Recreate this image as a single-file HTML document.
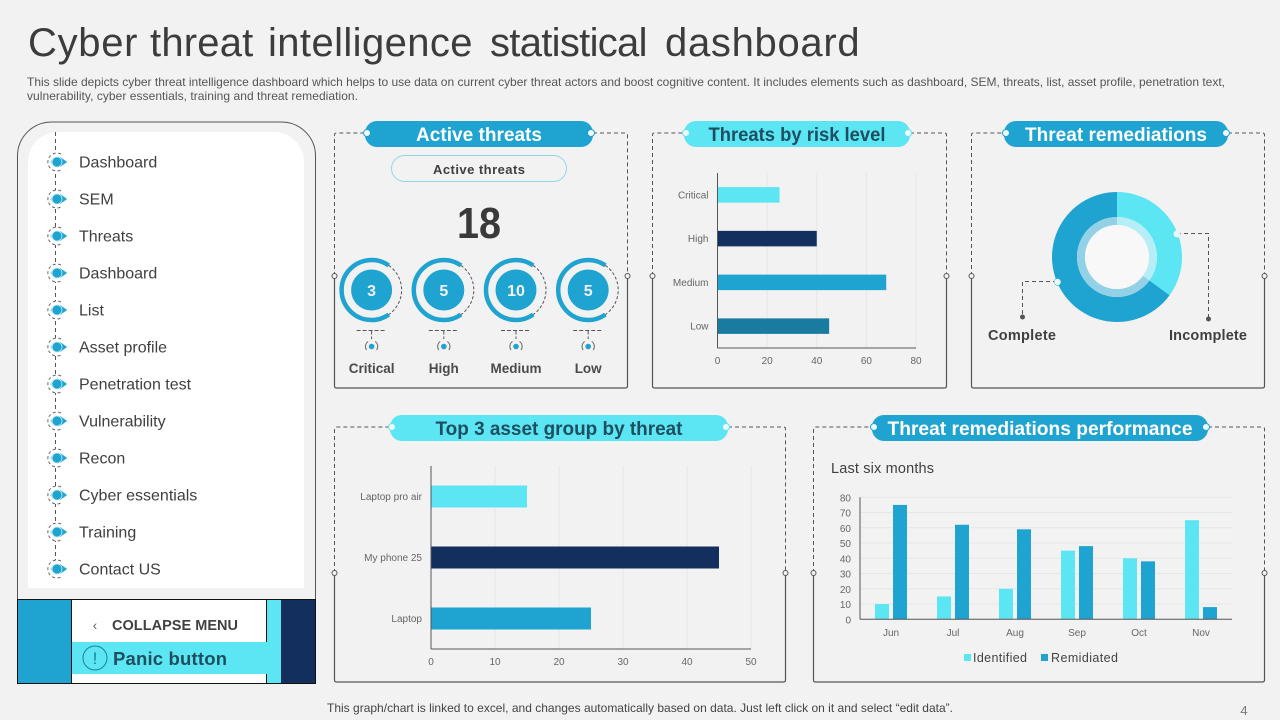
<!DOCTYPE html>
<html lang="en">
<head>
<meta charset="utf-8">
<title>Cyber threat intelligence statistical dashboard</title>
<style>
html,body{margin:0;padding:0;background:#f2f2f2;width:1280px;height:720px;overflow:hidden}
svg{display:block;font-family:"Liberation Sans",sans-serif}
.tick{font-size:10px;fill:#666}
.head{font-size:19px;font-weight:bold;text-anchor:middle}
</style>
</head>
<body>
<svg id="slide" width="1280" height="720" viewBox="0 0 1280 720" xmlns="http://www.w3.org/2000/svg">
<rect width="1280" height="720" fill="#f2f2f2"/>
<text y="56" font-size="40" fill="#3c3c3c"><tspan x="28" letter-spacing="0.7">Cyber</tspan> <tspan x="150" letter-spacing="0.2">threat</tspan> <tspan x="268" letter-spacing="0.4">intelligence</tspan> <tspan x="490" letter-spacing="-0.7">statistical</tspan> <tspan x="665" letter-spacing="0.7">dashboard</tspan></text>
<text x="27" y="86" font-size="12" fill="#555" textLength="1198" lengthAdjust="spacing">This slide depicts cyber threat intelligence dashboard which helps to use data on current cyber threat actors and boost cognitive content. It includes elements such as dashboard, SEM, threats, list, asset profile, penetration text,</text>
<text x="27" y="100" font-size="12" fill="#555" textLength="331" lengthAdjust="spacing">vulnerability, cyber essentials, training and threat remediation.</text>

<g id="sidebar">
<path d="M17.5 600V156a34 34 0 0 1 34-34H281.5a34 34 0 0 1 34 34V600" fill="none" stroke="#555" stroke-width="1"/>
<path d="M28 588V162a30 30 0 0 1 30-30H274a30 30 0 0 1 30 30V588Z" fill="#fff"/>
<line x1="55.5" y1="132" x2="55.5" y2="560" stroke="#555" stroke-width="1" stroke-dasharray="4 3"/>
<g id="nav"></g>
<rect x="18" y="600" width="53" height="83" fill="#1fa3d0"/>
<rect x="71" y="600" width="196" height="83" fill="#fff"/>
<rect x="267" y="600" width="14" height="83" fill="#5ce5f3"/>
<rect x="281" y="600" width="34" height="83" fill="#132f5e"/>
<rect x="72" y="642" width="209" height="32" fill="#5ce5f3"/>
<line x1="71.5" y1="600" x2="71.5" y2="683" stroke="#111" stroke-width="1"/>
<line x1="266.5" y1="600" x2="266.5" y2="642" stroke="#111" stroke-width="1"/>
<line x1="266.5" y1="674" x2="266.5" y2="683" stroke="#111" stroke-width="1"/>
<rect x="17.5" y="599.5" width="298" height="84" fill="none" stroke="#111" stroke-width="1"/>
<text x="95" y="630" font-size="14" fill="#666" text-anchor="middle">‹</text>
<text x="112" y="630" font-size="14.500" font-weight="bold" fill="#404040" textLength="126" lengthAdjust="spacing">COLLAPSE MENU</text>
<circle cx="95" cy="658" r="12" fill="none" stroke="#1b7fa3" stroke-width="1"/>
<text x="95" y="664" font-size="17" fill="#1b7fa3" text-anchor="middle">!</text>
<text x="113" y="665" font-size="18.500" font-weight="bold" fill="#1d4f60" textLength="114" lengthAdjust="spacing">Panic button</text>
</g>

<g id="panels"></g>

<g>
<rect x="391.5" y="155.5" width="175" height="26" rx="13" fill="none" stroke="#8fd6e8" stroke-width="1"/>
<text x="479" y="174" font-size="13" font-weight="bold" fill="#404040" text-anchor="middle" textLength="92">Active threats</text>
<text id="active-total" x="479" y="238" font-size="44" font-weight="bold" fill="#3a3a3a" text-anchor="middle" textLength="44" lengthAdjust="spacingAndGlyphs">18</text>
<g id="gauges"></g>
</g>

<g id="risk-chart"></g>

<g>
<g id="donut"></g>
<path d="M1177 233.500H1208.500V319" fill="none" stroke="#555" stroke-width="1" stroke-dasharray="4 3"/>
<circle cx="1177" cy="234" r="3.500" fill="#eaf9fc"/>
<circle cx="1208.500" cy="319" r="2.500" fill="#555"/>
<path d="M1057 281.500H1022.500V317" fill="none" stroke="#555" stroke-width="1" stroke-dasharray="4 3"/>
<circle cx="1057.500" cy="282" r="3.500" fill="#eaf9fc" stroke="#1fa3d0" stroke-width="0.500"/>
<circle cx="1022.500" cy="317" r="2.500" fill="#555"/>
<text x="1022" y="340" font-size="14.500" font-weight="bold" fill="#404040" text-anchor="middle" textLength="68">Complete</text>
<text x="1208" y="340" font-size="14.500" font-weight="bold" fill="#404040" text-anchor="middle" textLength="78">Incomplete</text>
</g>

<g id="asset-chart"></g>

<text x="831" y="473" font-size="14.500" fill="#404040" textLength="103">Last six months</text>
<g id="perf-chart"></g>

<text x="327" y="712" font-size="12" fill="#444" textLength="626" lengthAdjust="spacing">This graph/chart is linked to excel, and changes automatically based on data. Just left click on it and select “edit data”.</text>
<text x="1244" y="715" font-size="13" fill="#777" text-anchor="middle">4</text>
</svg>

<script>
const navItems = ["Dashboard","SEM","Threats","Dashboard","List","Asset profile","Penetration test","Vulnerability","Recon","Cyber essentials","Training","Contact US"];

const gaugeLabels = ["Critical","High","Medium","Low"];
const gaugeValues = [3,5,10,5];

const riskCategories = ["Critical","High","Medium","Low"];
const riskValues = [25,40,68,45];
const riskTicks = [0,20,40,60,80];

const donutLabels = ["Incomplete","Complete"];
const donutValues = [35,65];

const assetCategories = ["Laptop pro air","My phone 25","Laptop"];
const assetValues = [15,45,25];
const assetTicks = [0,10,20,30,40,50];

const perfMonths = ["Jun","Jul","Aug","Sep","Oct","Nov"];
const perfIdentified = [10,15,20,45,40,65];
const perfRemidiated = [75,62,59,48,38,8];
const perfTicks = [0,10,20,30,40,50,60,70,80];

const NS = "http://www.w3.org/2000/svg";
const CYAN = "#5ce5f3", BLUE = "#1fa3d0", NAVY = "#132f5e", TEAL = "#1a7ba0";

function mk(tag, attrs, parent, text) {
  const el = document.createElementNS(NS, tag);
  for (const k in attrs) el.setAttribute(k, attrs[k]);
  if (text !== undefined) el.textContent = text;
  parent.appendChild(el);
  return el;
}
function label(el, name, interactive) {
  
  
  return el;
}
function slug(s) { return String(s).toLowerCase().replace(/[^a-z0-9]+/g, '-'); }

/* sidebar */
const navG = document.getElementById('nav');
navItems.forEach((item, i) => {
  const y = 162 + 37 * i;
  const g = mk('g', {}, navG);
  
  
  const mask = mk('circle', {cx:56.5, cy:y, r:9, fill:'#fff'}, g);
  label(mask, 'nav-icon-backdrop', false);
  const halo = mk('path', {d:`M61 ${y-8}A9 9 0 1 0 61 ${y+8}`, fill:'none', stroke:'#666', 'stroke-width':1, 'stroke-dasharray':'3 2.500'}, g);
  label(halo, 'nav-icon-ring', false);
  const eye = mk('path', {d:`M50 ${y}Q57 ${y-9} 67 ${y}Q57 ${y+9} 50 ${y}Z`, fill:'#8fdcec'}, g);
  label(eye, 'nav-icon-eye', false);
  const tip = mk('path', {d:`M60 ${y-5}L67 ${y}L60 ${y+5}Z`, fill:BLUE}, g);
  label(tip, 'nav-icon-pointer', false);
  const dot = mk('circle', {cx:57, cy:y, r:5, fill:BLUE, stroke:'#bfeef6', 'stroke-width':0.8}, g);
  label(dot, 'nav-icon-dot', false);
  const t = mk('text', {x:79, y:y+5.5, 'font-size':16, fill:'#404040'}, g, item);
  label(t, 'nav-label', true);
});

/* panels */
const panelDefs = [
  {name:'active-threats', title:'Active threats', x1:334.5, x2:627.5, top:133, bot:388, mid:276, p1:365, p2:593, py:121, col:BLUE, tc:'#fff', tl:126},
  {name:'threats-by-risk', title:'Threats by risk level', x1:652.5, x2:946.5, top:133, bot:388, mid:276, p1:684, p2:910, py:121, col:CYAN, tc:'#1d4f60', tl:177},
  {name:'threat-remediations', title:'Threat remediations', x1:971.5, x2:1264.5, top:133, bot:388, mid:276, p1:1004, p2:1228, py:121, col:BLUE, tc:'#fff', tl:182},
  {name:'top-asset-group', title:'Top 3 asset group by threat', x1:334.5, x2:785.5, top:427, bot:682, mid:573, p1:390, p2:728, py:415, col:CYAN, tc:'#1d4f60', tl:247},
  {name:'remediation-performance', title:'Threat remediations performance', x1:813.5, x2:1264.5, top:427, bot:682, mid:573, p1:872, p2:1208, py:415, col:BLUE, tc:'#fff', tl:305}
];
const panelsG = document.getElementById('panels');
panelDefs.forEach(p => {
  const g = mk('g', {}, panelsG);
  
  
  const dash = mk('path', {d:`M${p.x1} ${p.mid}V${p.top+2}q0 -2 2 -2H${p.p1} M${p.p2} ${p.top}H${p.x2-2}q2 0 2 2V${p.mid}`, fill:'none', stroke:'#555', 'stroke-width':1, 'stroke-dasharray':'4 3'}, g);
  label(dash, 'panel-dashed-border', false);
  const solid = mk('path', {d:`M${p.x1} ${p.mid}V${p.bot-2}q0 2 2 2H${p.x2-2}q2 0 2 -2V${p.mid}`, fill:'none', stroke:'#555', 'stroke-width':1.200}, g);
  label(solid, 'panel-solid-border', false);
  [p.x1, p.x2].forEach(x => {
    const c = mk('circle', {cx:x, cy:p.mid, r:2.500, fill:'#f2f2f2', stroke:'#555', 'stroke-width':1}, g);
    label(c, 'panel-border-node', false);
  });
  const pill = mk('rect', {x:p.p1, y:p.py, width:p.p2-p.p1, height:26, rx:12, fill:p.col}, g);
  label(pill, 'panel-title-pill', false);
  [p.p1+2, p.p2-2].forEach(x => {
    const c = mk('circle', {cx:x, cy:p.top, r:3.500, fill:'#f2fbfd', stroke:p.col, 'stroke-width':1}, g);
    label(c, 'panel-title-node', false);
  });
  const t = mk('text', {x:(p.p1+p.p2)/2, y:p.py+20, class:'head', fill:p.tc, textLength:p.tl, lengthAdjust:'spacingAndGlyphs'}, g, p.title);
  label(t, 'panel-title', false);
});

/* gauges */
const gaugesG = document.getElementById('gauges');
const gaugeStep = 72.2;
gaugeLabels.forEach((name, i) => {
  const cx = 371.6 + gaugeStep * i, cy = 290;
  const g = mk('g', {}, gaugesG);
  
  
  const a = Math.PI * 35 / 180, r = 30;
  const sx = cx + r * Math.sin(a), sy = cy - r * Math.cos(a), ey = cy + r * Math.cos(a);
  const arc = mk('path', {d:`M${sx} ${sy}A${r} ${r} 0 1 0 ${sx} ${ey}`, fill:'none', stroke:BLUE, 'stroke-width':4.500}, g);
  label(arc, 'gauge-arc', false);
  const rest = mk('path', {d:`M${sx} ${sy}A${r} ${r} 0 0 1 ${sx} ${ey}`, fill:'none', stroke:'#555', 'stroke-width':1, 'stroke-dasharray':'3 2'}, g);
  label(rest, 'gauge-remainder', false);
  const disc = mk('circle', {cx:cx, cy:cy, r:20.500, fill:BLUE}, g);
  label(disc, 'gauge-disc', false);
  const val = mk('text', {x:cx, y:cy+6, 'font-size':16, 'font-weight':'bold', fill:'#f2f2f2', 'text-anchor':'middle'}, g, gaugeValues[i]);
  label(val, 'gauge-value', false);
  const conn = mk('path', {d:`M${cx-15} 330.500H${cx+15}M${cx} 330.500V339`, fill:'none', stroke:'#555', 'stroke-width':1, 'stroke-dasharray':'4 2'}, g);
  label(conn, 'gauge-connector', false);
  const ringL = mk('path', {d:`M${cx-3.500} 341.500A6 6 0 0 0 ${cx-5} 350`, fill:'none', stroke:'#666', 'stroke-width':1}, g);
  label(ringL, 'gauge-marker-arc-left', false);
  const ringR = mk('path', {d:`M${cx+3.500} 341.500A6 6 0 0 1 ${cx+5} 350`, fill:'none', stroke:'#666', 'stroke-width':1}, g);
  label(ringR, 'gauge-marker-arc-right', false);
  const dot = mk('circle', {cx:cx, cy:346.500, r:2.800, fill:BLUE}, g);
  label(dot, 'gauge-marker-dot', false);
  const t = mk('text', {x:cx, y:373, 'font-size':13.5, 'font-weight':'bold', fill:'#4a4a4a', 'text-anchor':'middle'}, g, name);
  label(t, 'gauge-label', false);
});

/* horizontal bar chart */
function hbars(rootId, cats, vals, ticks, colors, o) {
  const root = document.getElementById(rootId);
  const maxT = ticks[ticks.length - 1];
  const xs = v => o.x0 + (o.x1 - o.x0) * v / maxT;
  const band = (o.yB - o.yT) / cats.length;
  ticks.forEach(t => {
    if (t !== 0) {
      const gl = mk('line', {x1:xs(t), x2:xs(t), y1:o.yT, y2:o.yB, stroke:'#e6e6e6', 'stroke-width':1}, root);
      label(gl, 'x-gridline', false);
    }
    const tl = mk('text', {x:xs(t), y:o.yB + 16, class:'tick', 'text-anchor':'middle'}, root, t);
    label(tl, 'x-tick-label', false);
  });
  cats.forEach((c, i) => {
    const cy = o.yT + band * (i + 0.5);
    const b = mk('rect', {x:o.x0, y:cy - o.bh / 2, width:xs(vals[i]) - o.x0, height:o.bh, fill:colors[i % colors.length]}, root);
    label(b, 'bar-' + slug(c), false);
    const t = mk('text', {x:o.x0 - 9, y:cy + 3.500, class:'tick', 'text-anchor':'end'}, root, c);
    label(t, 'y-category-label', false);
  });
  const ya = mk('line', {x1:o.x0, x2:o.x0, y1:o.yT, y2:o.yB, stroke:'#555', 'stroke-width':1}, root);
  label(ya, 'y-axis', false);
  const xa = mk('line', {x1:o.x0, x2:o.x1, y1:o.yB, y2:o.yB, stroke:'#555', 'stroke-width':1}, root);
  label(xa, 'x-axis', false);
}
hbars('risk-chart', riskCategories, riskValues, riskTicks, [CYAN, NAVY, BLUE, TEAL], {x0:717.5, x1:916, yT:173, yB:348, bh:15.500});
hbars('asset-chart', assetCategories, assetValues, assetTicks, [CYAN, NAVY, BLUE], {x0:431, x1:751, yT:466, yB:649, bh:22});

/* donut */
const donutG = document.getElementById('donut');
const dcx = 1117, dcy = 257, dR = 65, dr = 40;
const total = donutValues.reduce((a, b) => a + b, 0);
function polar(r, f) {
  const t = 2 * Math.PI * f;
  return [dcx + r * Math.sin(t), dcy - r * Math.cos(t)];
}
let acc = 0;
const donutColors = [CYAN, BLUE];
donutValues.forEach((v, i) => {
  const f0 = acc / total, f1 = (acc + v) / total;
  acc += v;
  const big = f1 - f0 > 0.5 ? 1 : 0;
  const A = polar(dR, f0), B = polar(dR, f1), C = polar(dr, f1), D = polar(dr, f0);
  const s = mk('path', {d:`M${A}A${dR} ${dR} 0 ${big} 1 ${B}L${C}A${dr} ${dr} 0 ${big} 0 ${D}Z`, fill:donutColors[i]}, donutG);
  label(s, 'donut-slice-' + slug(donutLabels[i]), false);
  const R2 = 40, r2 = 32;
  const A2 = polar(R2, f0), B2 = polar(R2, f1), C2 = polar(r2, f1), D2 = polar(r2, f0);
  const s2 = mk('path', {d:`M${A2}A${R2} ${R2} 0 ${big} 1 ${B2}L${C2}A${r2} ${r2} 0 ${big} 0 ${D2}Z`, fill:i === 0 ? '#b5eef6' : '#93d2e6'}, donutG);
  label(s2, 'donut-inner-ring-' + slug(donutLabels[i]), false);
});
const hole = mk('circle', {cx:dcx, cy:dcy, r:32, fill:'#f8f8f8'}, donutG);
label(hole, 'donut-center', false);

/* grouped columns */
const perfG = document.getElementById('perf-chart');
const px0 = 860, px1 = 1232, py0 = 619.3, pyT = 497.3;
const pMax = perfTicks[perfTicks.length - 1];
const yS = v => py0 - (py0 - pyT) * v / pMax;
const pBand = (px1 - px0) / perfMonths.length;
perfTicks.forEach(t => {
  if (t !== 0) {
    const gl = mk('line', {x1:px0, x2:px1, y1:yS(t), y2:yS(t), stroke:'#e6e6e6', 'stroke-width':1}, perfG);
    label(gl, 'y-gridline', false);
  }
  const tl = mk('text', {x:px0 - 9, y:yS(t) + 4, class:'tick', 'text-anchor':'end'}, perfG, t);
  label(tl, 'y-tick-label', false);
});
perfMonths.forEach((m, i) => {
  const c = px0 + pBand * (i + 0.5);
  const b1 = mk('rect', {x:c - 16, y:yS(perfIdentified[i]), width:14, height:py0 - yS(perfIdentified[i]), fill:CYAN}, perfG);
  label(b1, 'bar-identified-' + slug(m), false);
  const b2 = mk('rect', {x:c + 2, y:yS(perfRemidiated[i]), width:14, height:py0 - yS(perfRemidiated[i]), fill:BLUE}, perfG);
  label(b2, 'bar-remidiated-' + slug(m), false);
  const t = mk('text', {x:c, y:636, class:'tick', 'text-anchor':'middle'}, perfG, m);
  label(t, 'x-month-label', false);
});
const pYa = mk('line', {x1:px0, x2:px0, y1:pyT, y2:py0, stroke:'#555', 'stroke-width':1}, perfG);
label(pYa, 'y-axis', false);
const pXa = mk('line', {x1:px0, x2:px1, y1:py0, y2:py0, stroke:'#555', 'stroke-width':1}, perfG);
label(pXa, 'x-axis', false);
const lg1 = mk('rect', {x:964, y:654, width:7, height:7, fill:CYAN}, perfG);
label(lg1, 'legend-swatch-identified', false);
const lt1 = mk('text', {x:973, y:662, 'font-size':12.5, fill:'#444', textLength:54}, perfG, 'Identified');
label(lt1, 'legend-entry-identified', false);
const lg2 = mk('rect', {x:1041, y:654, width:7, height:7, fill:BLUE}, perfG);
label(lg2, 'legend-swatch-remidiated', false);
const lt2 = mk('text', {x:1051, y:662, 'font-size':12.5, fill:'#444', textLength:67}, perfG, 'Remidiated');
label(lt2, 'legend-entry-remidiated', false);
</script>
</body>
</html>
